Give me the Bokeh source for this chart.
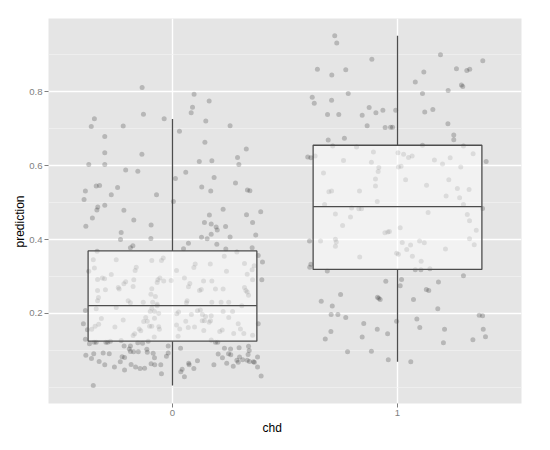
from bokeh.plotting import figure
from bokeh.models import Range1d, FixedTicker, Title
from bokeh.embed import file_html
from bokeh.resources import INLINE

# ---------------- data ----------------
categories = [0, 1]
category_labels = ["0", "1"]
y_major = [0.2, 0.4, 0.6, 0.8]
y_labels = ["0.2", "0.4", "0.6", "0.8"]
y_minor = [0.0, 0.1, 0.3, 0.5, 0.7, 0.9]

# boxplot statistics per chd group
box_lower = [0.005, 0.069]
box_q1 = [0.125, 0.319]
box_median = [0.221, 0.489]
box_q3 = [0.369, 0.655]
box_upper = [0.726, 0.951]

# jittered observations, chd = 0 (horizontal jitter offset, prediction)
g0_jitter = [
    -0.135, -0.129, -0.037, 0.096, 0.163, 0.089, 0.083, 0.148, 0.256, -0.347,
    -0.361, -0.219, -0.301, 0.031, 0.144, -0.301, -0.136, -0.372, -0.301, 0.289,
    0.295, 0.328, 0.119, 0.175, -0.208, -0.154, 0.059, 0.013, 0.185, 0.130,
    0.170, 0.280, 0.333, 0.344, -0.387, -0.339, -0.324, -0.244, -0.272, -0.071,
    -0.393, -0.332, -0.336, -0.301, -0.216, 0.004, 0.225, 0.392, 0.329, 0.164,
    -0.356, -0.385, -0.172, -0.095, 0.142, 0.172, 0.194, 0.199, 0.236, 0.356,
    -0.228, -0.231, -0.096, 0.129, 0.154, 0.172, 0.256, 0.370, 0.071, 0.049,
    0.197, 0.237, 0.354, -0.187, -0.176, -0.335, 0.286, 0.381, 0.400, 0.397,
    -0.352, -0.250, -0.092, -0.049, -0.041, -0.161, -0.166, 0.101, 0.095, 0.168,
    0.230, 0.320, 0.363, 0.354, 0.240, -0.372, -0.347, 0.018, -0.272, 0.332,
    -0.333, -0.312, -0.302, -0.208, -0.216, -0.172, -0.056, -0.065, -0.068, -0.039,
    -0.006, 0.053, 0.077, 0.071, 0.138, 0.175, 0.356, -0.175, -0.092, -0.241,
    -0.237, -0.333, -0.298, 0.128, 0.120, 0.191, 0.225, 0.320, 0.326, 0.332,
    0.338, -0.329, -0.333, -0.197, -0.187, -0.130, -0.096, -0.076, -0.088, -0.068,
    -0.068, 0.065, 0.062, 0.175, 0.216, 0.250, 0.308, -0.250, -0.092, -0.387,
    -0.339, -0.061, 0.027, 0.019, 0.111, 0.124, 0.084, 0.133, 0.147, 0.172,
    0.225, 0.267, -0.099, -0.080, -0.119, -0.112, -0.128, -0.080, -0.316, -0.396,
    -0.328, -0.344, -0.219, 0.059, 0.132, 0.142, 0.163, 0.169, 0.250, 0.292,
    0.381, 0.210, 0.221, 0.272, 0.302, 0.317, 0.018, 0.032, 0.070, 0.098,
    0.139, -0.102, -0.092, -0.061, -0.058, -0.148, -0.141, -0.175, -0.168, -0.256,
    -0.378, -0.359, -0.387, -0.081, 0.025, 0.356, -0.369, -0.348, -0.339, -0.296,
    -0.288, -0.276, -0.228, -0.187, -0.215, -0.154, -0.133, -0.108, -0.019, 0.036,
    0.172, 0.191, 0.201, 0.231, 0.258, 0.296, 0.338, 0.341, 0.336, 0.259,
    0.249, 0.378, 0.364, -0.385, -0.350, -0.308, -0.281, -0.360, -0.326, -0.301,
    -0.258, -0.232, -0.213, -0.224, -0.187, -0.192, -0.173, -0.152, -0.114, -0.112,
    -0.086, -0.080, -0.095, -0.079, -0.184, -0.164, -0.144, -0.124, -0.052, -0.027,
    -0.019, -0.049, -0.213, 0.072, 0.074, 0.095, 0.111, 0.043, 0.037, 0.053,
    0.184, 0.203, 0.222, 0.241, 0.270, 0.286, 0.298, 0.292, 0.312, 0.332,
    0.342, 0.360, 0.378, 0.394, -0.352,
]
g0_prediction = [
    0.811, 0.739, 0.727, 0.793, 0.775, 0.758, 0.743, 0.721, 0.708, 0.727,
    0.706, 0.707, 0.679, 0.693, 0.663, 0.635, 0.631, 0.603, 0.603, 0.622,
    0.603, 0.645, 0.611, 0.613, 0.588, 0.585, 0.582, 0.565, 0.568, 0.542,
    0.531, 0.553, 0.534, 0.532, 0.531, 0.545, 0.546, 0.541, 0.521, 0.521,
    0.508, 0.488, 0.480, 0.493, 0.479, 0.503, 0.482, 0.475, 0.467, 0.466,
    0.458, 0.436, 0.453, 0.439, 0.446, 0.442, 0.434, 0.426, 0.435, 0.446,
    0.419, 0.400, 0.403, 0.406, 0.402, 0.414, 0.407, 0.412, 0.390, 0.375,
    0.387, 0.374, 0.378, 0.378, 0.383, 0.368, 0.366, 0.357, 0.339, 0.291,
    0.345, 0.345, 0.343, 0.343, 0.350, 0.325, 0.316, 0.334, 0.324, 0.334,
    0.355, 0.335, 0.329, 0.318, 0.314, 0.314, 0.323, 0.316, 0.305, 0.306,
    0.292, 0.296, 0.294, 0.286, 0.280, 0.291, 0.296, 0.291, 0.284, 0.288,
    0.289, 0.296, 0.281, 0.272, 0.288, 0.288, 0.291, 0.273, 0.267, 0.270,
    0.266, 0.262, 0.264, 0.265, 0.262, 0.266, 0.266, 0.270, 0.262, 0.258,
    0.249, 0.243, 0.234, 0.234, 0.229, 0.230, 0.252, 0.246, 0.230, 0.225,
    0.221, 0.234, 0.229, 0.230, 0.230, 0.230, 0.221, 0.216, 0.214, 0.208,
    0.213, 0.200, 0.204, 0.199, 0.207, 0.209, 0.197, 0.197, 0.192, 0.194,
    0.205, 0.205, 0.205, 0.205, 0.189, 0.179, 0.178, 0.187, 0.186, 0.172,
    0.171, 0.165, 0.182, 0.179, 0.180, 0.180, 0.176, 0.180, 0.189, 0.172,
    0.172, 0.151, 0.155, 0.146, 0.158, 0.146, 0.169, 0.158, 0.162, 0.163,
    0.154, 0.165, 0.165, 0.164, 0.157, 0.158, 0.153, 0.140, 0.145, 0.163,
    0.156, 0.157, 0.130, 0.136, 0.138, 0.141, 0.118, 0.122, 0.122, 0.122,
    0.122, 0.125, 0.127, 0.112, 0.112, 0.121, 0.119, 0.125, 0.112, 0.106,
    0.128, 0.122, 0.122, 0.106, 0.104, 0.107, 0.111, 0.100, 0.089, 0.088,
    0.091, 0.082, 0.068, 0.087, 0.091, 0.093, 0.091, 0.078, 0.070, 0.061,
    0.055, 0.069, 0.081, 0.083, 0.097, 0.104, 0.096, 0.096, 0.103, 0.095,
    0.092, 0.080, 0.064, 0.061, 0.062, 0.055, 0.051, 0.052, 0.061, 0.084,
    0.093, 0.037, 0.047, 0.065, 0.061, 0.051, 0.072, 0.049, 0.042, 0.029,
    0.061, 0.090, 0.080, 0.065, 0.057, 0.073, 0.082, 0.068, 0.075, 0.073,
    0.070, 0.069, 0.055, 0.031, 0.005,
]

# jittered observations, chd = 1
g1_jitter = [
    -0.279, -0.270, -0.114, -0.356, -0.292, -0.230, 0.191, 0.379, 0.117, 0.262,
    0.308, 0.321, 0.079, 0.284, 0.290, 0.225, 0.111, -0.379, -0.370, -0.293,
    -0.219, -0.126, -0.096, -0.065, -0.008, -0.311, -0.261, -0.157, 0.121, 0.157,
    -0.135, -0.055, -0.031, -0.022, 0.224, 0.250, 0.250, -0.308, -0.236, -0.288,
    -0.182, 0.111, 0.293, -0.399, -0.385, -0.366, 0.394, 0.378, -0.240, -0.116,
    -0.107, 0.002, 0.027, 0.049, 0.065, 0.164, 0.200, 0.234, 0.336, -0.083,
    -0.086, 0.004, 0.016, -0.329, 0.281, -0.098, 0.036, 0.228, -0.098, 0.129,
    -0.305, -0.293, -0.169, 0.266, 0.318, 0.216, 0.276, -0.090, -0.324, 0.293,
    -0.204, -0.172, -0.160, -0.276, -0.209, 0.136, 0.310, 0.320, -0.244, 0.350,
    -0.056, -0.043, -0.036, 0.012, -0.276, -0.272, -0.276, -0.391, -0.342, 0.021,
    0.058, 0.098, 0.119, 0.320, 0.341, 0.041, 0.213, -0.004, 0.004, 0.066,
    0.105, -0.168, -0.385, -0.390, 0.079, 0.104, 0.144, -0.312, 0.293, -0.052,
    0.018, 0.012, 0.182, 0.128, 0.139, -0.253, -0.339, -0.089, -0.083, -0.077,
    0.071, -0.290, 0.179, -0.295, -0.265, -0.230, 0.363, 0.378, 0.086, -0.004,
    -0.150, 0.099, -0.090, 0.209, 0.381, -0.296, -0.044, -0.157, -0.321, 0.391,
    0.335, 0.204, -0.222, -0.116, -0.041, 0.059,
]
g1_prediction = [
    0.951, 0.932, 0.888, 0.861, 0.845, 0.859, 0.900, 0.884, 0.853, 0.862,
    0.857, 0.861, 0.826, 0.818, 0.814, 0.803, 0.795, 0.785, 0.769, 0.777,
    0.795, 0.757, 0.743, 0.750, 0.750, 0.738, 0.738, 0.736, 0.745, 0.752,
    0.708, 0.703, 0.704, 0.704, 0.713, 0.683, 0.670, 0.669, 0.674, 0.653,
    0.650, 0.655, 0.653, 0.623, 0.621, 0.626, 0.611, 0.484, 0.614, 0.609,
    0.637, 0.635, 0.631, 0.622, 0.626, 0.615, 0.604, 0.621, 0.632, 0.595,
    0.584, 0.596, 0.598, 0.580, 0.596, 0.564, 0.562, 0.562, 0.545, 0.547,
    0.529, 0.531, 0.531, 0.538, 0.535, 0.518, 0.513, 0.503, 0.495, 0.495,
    0.485, 0.483, 0.483, 0.469, 0.461, 0.473, 0.468, 0.451, 0.438, 0.425,
    0.418, 0.420, 0.422, 0.432, 0.401, 0.393, 0.382, 0.396, 0.396, 0.392,
    0.385, 0.396, 0.391, 0.402, 0.386, 0.373, 0.374, 0.363, 0.360, 0.355,
    0.341, 0.353, 0.333, 0.325, 0.318, 0.318, 0.321, 0.315, 0.302, 0.287,
    0.292, 0.275, 0.285, 0.265, 0.262, 0.251, 0.233, 0.244, 0.241, 0.238,
    0.238, 0.220, 0.213, 0.197, 0.197, 0.189, 0.195, 0.194, 0.185, 0.179,
    0.173, 0.162, 0.157, 0.157, 0.157, 0.151, 0.145, 0.136, 0.131, 0.137,
    0.129, 0.121, 0.096, 0.098, 0.075, 0.069,
]

# ---------------- figure ----------------
FONT = "Liberation Sans"
GREY50 = "#7F7F7F"
BOX_HALF = 0.375

p = figure(width=534, height=434, output_backend="svg", toolbar_location=None,
           x_range=Range1d(-0.551, 1.551), y_range=Range1d(-0.0437, 0.998),
           min_border_left=48, min_border_right=13, min_border_top=18,
           min_border_bottom=31)
p.background_fill_color = "#E5E5E5"
p.border_fill_color = "white"
p.outline_line_color = None

# grid
p.xgrid.ticker = FixedTicker(ticks=categories)
p.xgrid.grid_line_color = "white"
p.xgrid.grid_line_width = 1.4
p.ygrid.ticker = FixedTicker(ticks=y_major, minor_ticks=y_minor)
p.ygrid.grid_line_color = "white"
p.ygrid.grid_line_width = 1.4
p.ygrid.minor_grid_line_color = "#F2F2F2"
p.ygrid.minor_grid_line_width = 0.7

# axes
for ax in (p.xaxis[0], p.yaxis[0]):
    ax.axis_line_color = None
    ax.major_tick_line_color = GREY50
    ax.major_tick_line_width = 1
    ax.major_tick_out = 4
    ax.major_tick_in = 0
    ax.minor_tick_line_color = None
    ax.major_label_text_color = GREY50
    ax.major_label_text_font = FONT
    ax.major_label_text_font_size = "9.6px"
    ax.major_label_standoff = 2

p.xaxis.ticker = FixedTicker(ticks=categories)
p.xaxis.major_label_overrides = {c: l for c, l in zip(categories, category_labels)}
p.yaxis.ticker = FixedTicker(ticks=y_major)
p.yaxis.major_label_overrides = {v: l for v, l in zip(y_major, y_labels)}

# jittered points
x0 = [categories[0] + j for j in g0_jitter]
x1 = [categories[1] + j for j in g1_jitter]
p.scatter(x=x0 + x1, y=g0_prediction + g1_prediction, size=5,
          fill_color="black", fill_alpha=0.2, line_color=None)

# boxplots
BOX_LINE = "#4D4D4D"
p.segment(x0=categories, x1=categories, y0=box_q3, y1=box_upper,
          line_color=BOX_LINE, line_width=1.3)
p.segment(x0=categories, x1=categories, y0=box_q1, y1=box_lower,
          line_color=BOX_LINE, line_width=1.3)
p.quad(left=[c - BOX_HALF for c in categories], right=[c + BOX_HALF for c in categories],
       bottom=box_q1, top=box_q3, fill_color="white", fill_alpha=0.5,
       line_color=BOX_LINE, line_width=1.3)
p.segment(x0=[c - BOX_HALF for c in categories], x1=[c + BOX_HALF for c in categories],
          y0=box_median, y1=box_median, line_color=BOX_LINE, line_width=1.3)

# axis titles
tx = Title(text="chd", align="left", offset=214, standoff=0,
           text_font=FONT, text_font_size="12px", text_font_style="normal",
           text_color="black")
p.add_layout(tx, "below")
ty = Title(text="prediction", align="left", offset=156, standoff=0,
           text_font=FONT, text_font_size="12px", text_font_style="normal",
           text_color="black")
p.add_layout(ty, "left")

open("out.html", "w").write(file_html(p, INLINE))
